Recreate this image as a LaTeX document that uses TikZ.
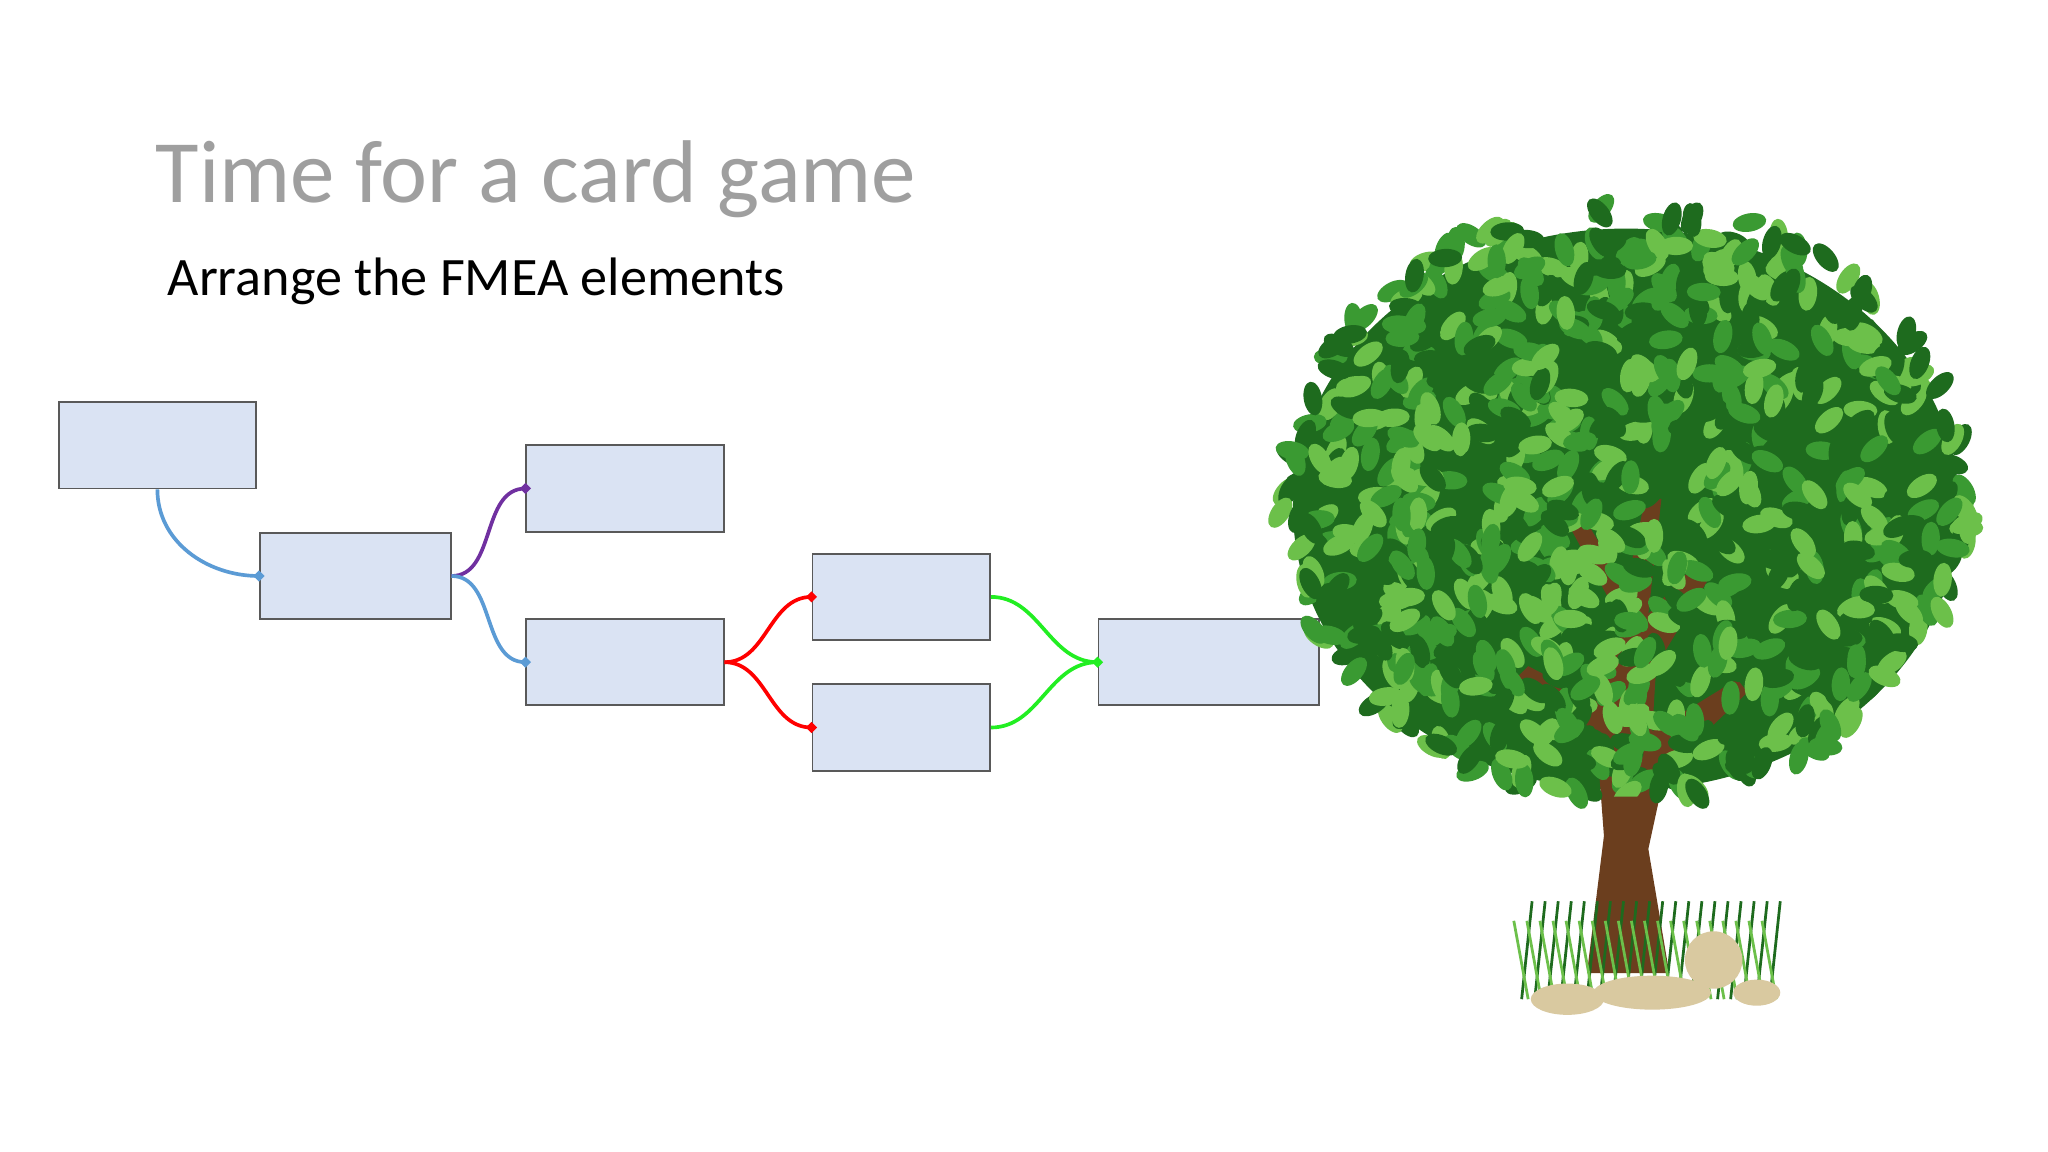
\documentclass[tikz,border=0pt]{standalone}
\usepackage{fontspec}
\setmainfont{Carlito}
\usetikzlibrary{shapes.geometric}
\definecolor{boxfill}{HTML}{DAE3F3}
\definecolor{boxline}{HTML}{595959}
\definecolor{cblue}{HTML}{5B9BD5}
\definecolor{cpurple}{HTML}{7030A0}
\definecolor{cred}{HTML}{FF0000}
\definecolor{cgreen}{HTML}{22EE22}
\definecolor{leafA}{HTML}{3A9A32}
\definecolor{leafB}{HTML}{6CC04A}
\definecolor{leafC}{HTML}{1E6B1E}
\definecolor{bark}{HTML}{6B3E1E}
\definecolor{rock}{HTML}{D9C9A0}
\begin{document}
\begin{tikzpicture}[x=0.02cm,y=-0.02cm,
  card/.style={draw=boxline,fill=boxfill,line width=0.8pt,minimum width=#1*0.02cm,minimum height=66*0.02cm,inner sep=0pt},
  link/.style={line width=1.6pt},
  dot/.style={diamond,fill,inner sep=0pt,minimum size=5pt}]
\useasboundingbox (0,0) rectangle (1568,882);
\fill[white] (0,0) rectangle (1568,882);
\node[anchor=base west,text=gray!75,font=\fontsize{38.8}{44}\selectfont,inner sep=0] (title) at (119,155) {Time for a card game};
\node[anchor=base west,font=\fontsize{23.6}{28}\selectfont,inner sep=0] (sub) at (128,226) {Arrange the FMEA elements};
\node[card=151] (A) at (120.5,341) {};
\node[card=146] (B) at (272,441) {};
\node[card=151] (C) at (478.5,374) {};
\node[card=151] (D) at (478.5,507) {};
\node[card=136] (E) at (690,457) {};
\node[card=136] (F) at (690,557) {};
\node[card=169] (G) at (925.5,507) {};
\draw[link,cblue] (A.south) to[out=-90,in=180] (B.west);
\node[dot,cblue] (d1) at (B.west) {};
\draw[link,cpurple] (B.east) to[out=0,in=180] (C.west);
\node[dot,cpurple] (d2) at (C.west) {};
\draw[link,cblue] (B.east) to[out=0,in=180] (D.west);
\node[dot,cblue] (d3) at (D.west) {};
\draw[link,cred] (D.east) to[out=0,in=180] (E.west);
\draw[link,cred] (D.east) to[out=0,in=180] (F.west);
\node[dot,cred] (d4) at (E.west) {};
\node[dot,cred] (d5) at (F.west) {};
\draw[link,cgreen] (E.east) to[out=0,in=180] (G.west);
\draw[link,cgreen] (F.east) to[out=0,in=180] (G.west);
\node[dot,cgreen] (d6) at (G.west) {};
% tree
\fill[leafC] (1245,390) ellipse (255 and 215);
\fill[bark] (1215,745) -- (1228,640) -- (1222,560) -- (1160,520) -- (1170,510) -- (1228,540) -- (1238,470) -- (1200,400) -- (1212,395) -- (1245,450) -- (1260,380) -- (1272,382) -- (1262,470) -- (1300,430) -- (1310,440) -- (1268,510) -- (1265,560) -- (1330,520) -- (1338,530) -- (1275,590) -- (1262,650) -- (1278,745) -- cycle;
\pgfmathsetseed{7}
\foreach \i in {1,...,900}{
  \pgfmathsetmacro{\a}{rnd*360}
  \pgfmathsetmacro{\r}{sqrt(rnd)}
  \pgfmathsetmacro{\px}{1245+265*\r*cos(\a)}
  \pgfmathsetmacro{\py}{385+230*\r*sin(\a)}
  \pgfmathsetmacro{\rot}{rnd*360}
  \pgfmathtruncatemacro{\c}{3*rnd}
  \ifcase\c \def\lc{leafA}\or\def\lc{leafB}\else\def\lc{leafC}\fi
  \fill[\lc,rotate around={\rot:(\px,\py)}] (\px,\py) ellipse (13 and 7);
}
\fill[bark] (1225,740) -- (1232,610) -- (1258,610) -- (1270,740) -- cycle;
\foreach \gx in {1165,1175,...,1355}{
  \draw[leafC,line width=1.2pt] (\gx,765) -- (\gx+8,690);
  \draw[leafB,line width=1.2pt] (\gx+5,765) -- (\gx-6,705);
}
\fill[rock] (1200,765) ellipse (28 and 12);
\fill[rock] (1265,760) ellipse (45 and 13);
\fill[rock] (1312,735) ellipse (22 and 22);
\fill[rock] (1345,760) ellipse (18 and 10);
\end{tikzpicture}
\end{document}
